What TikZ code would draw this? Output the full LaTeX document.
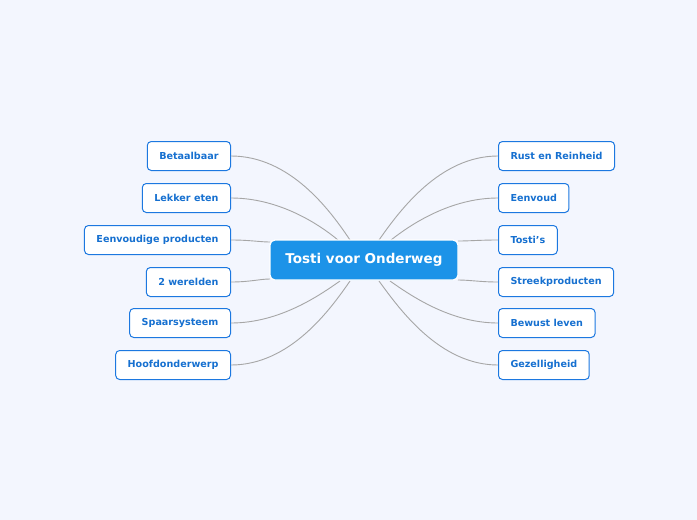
\documentclass[tikz,border=0pt]{standalone}
\usepackage{fontspec}
\setmainfont{DejaVu Sans}
\begin{document}
\begin{tikzpicture}[x=1pt,y=-1pt,
 sub/.style={draw=borderblue,line width=1pt,fill=white,rounded corners=4pt,minimum height=29pt,inner xsep=12pt,font=\fontsize{9.6}{11}\selectfont\bfseries,text=textblue},
 main/.style={draw=white,line width=1.2pt,fill=mainblue,rounded corners=5pt,minimum width=188pt,minimum height=40pt,font=\fontsize{13.5}{15}\selectfont\bfseries,text=white},
 con/.style={draw=gray!70,line width=0.9pt}]
\definecolor{textblue}{HTML}{1670D0}
\definecolor{borderblue}{HTML}{1C78E0}
\definecolor{mainblue}{HTML}{1C93E8}
\definecolor{bgc}{HTML}{F3F6FE}
\fill[bgc] (0,0) rectangle (697,520);
\useasboundingbox (0,0) rectangle (697,520);
\foreach \n/\t/\y in {l1/Betaalbaar/156,l2/Lekker eten/198,l3/Eenvoudige producten/240,l4/2 werelden/282,l5/Spaarsysteem/323,l6/Hoofdonderwerp/365}
  \node[sub,anchor=east] (\n) at (231,\y) {\t};
\foreach \n/\t/\y in {r1/Rust en Reinheid/156,r2/Eenvoud/198,r3/Tosti's/240,r4/Streekproducten/282,r5/Bewust leven/323,r6/Gezelligheid/365}
  \node[sub,anchor=west] (\n) at (498,\y) {\t};
\coordinate (a1) at (350,240); \coordinate (a2) at (338,240);
\coordinate (a3) at (270,242); \coordinate (a4) at (270,279);
\coordinate (a5) at (340,281); \coordinate (a6) at (350,281);
\coordinate (b1) at (379,240); \coordinate (b2) at (391,240);
\coordinate (b3) at (458,241); \coordinate (b4) at (458,280);
\coordinate (b5) at (390,281); \coordinate (b6) at (379,281);
\draw[con] (l1.east) .. controls (290,156) and (330,210) .. (a1);
\draw[con] (l2.east) .. controls (280,198) and (320,225) .. (a2);
\draw[con] (l3.east) .. controls (250,240) and (260,242) .. (a3);
\draw[con] (l4.east) .. controls (250,282) and (260,279) .. (a4);
\draw[con] (l5.east) .. controls (280,323) and (320,295) .. (a5);
\draw[con] (l6.east) .. controls (290,365) and (330,310) .. (a6);
\draw[con] (r1.west) .. controls (440,156) and (400,210) .. (b1);
\draw[con] (r2.west) .. controls (450,198) and (410,225) .. (b2);
\draw[con] (r3.west) .. controls (480,240) and (470,241) .. (b3);
\draw[con] (r4.west) .. controls (480,282) and (470,280) .. (b4);
\draw[con] (r5.west) .. controls (450,323) and (410,295) .. (b5);
\draw[con] (r6.west) .. controls (440,365) and (400,310) .. (b6);
\node[main] (c) at (364,260) {Tosti voor Onderweg};
\end{tikzpicture}
\end{document}
